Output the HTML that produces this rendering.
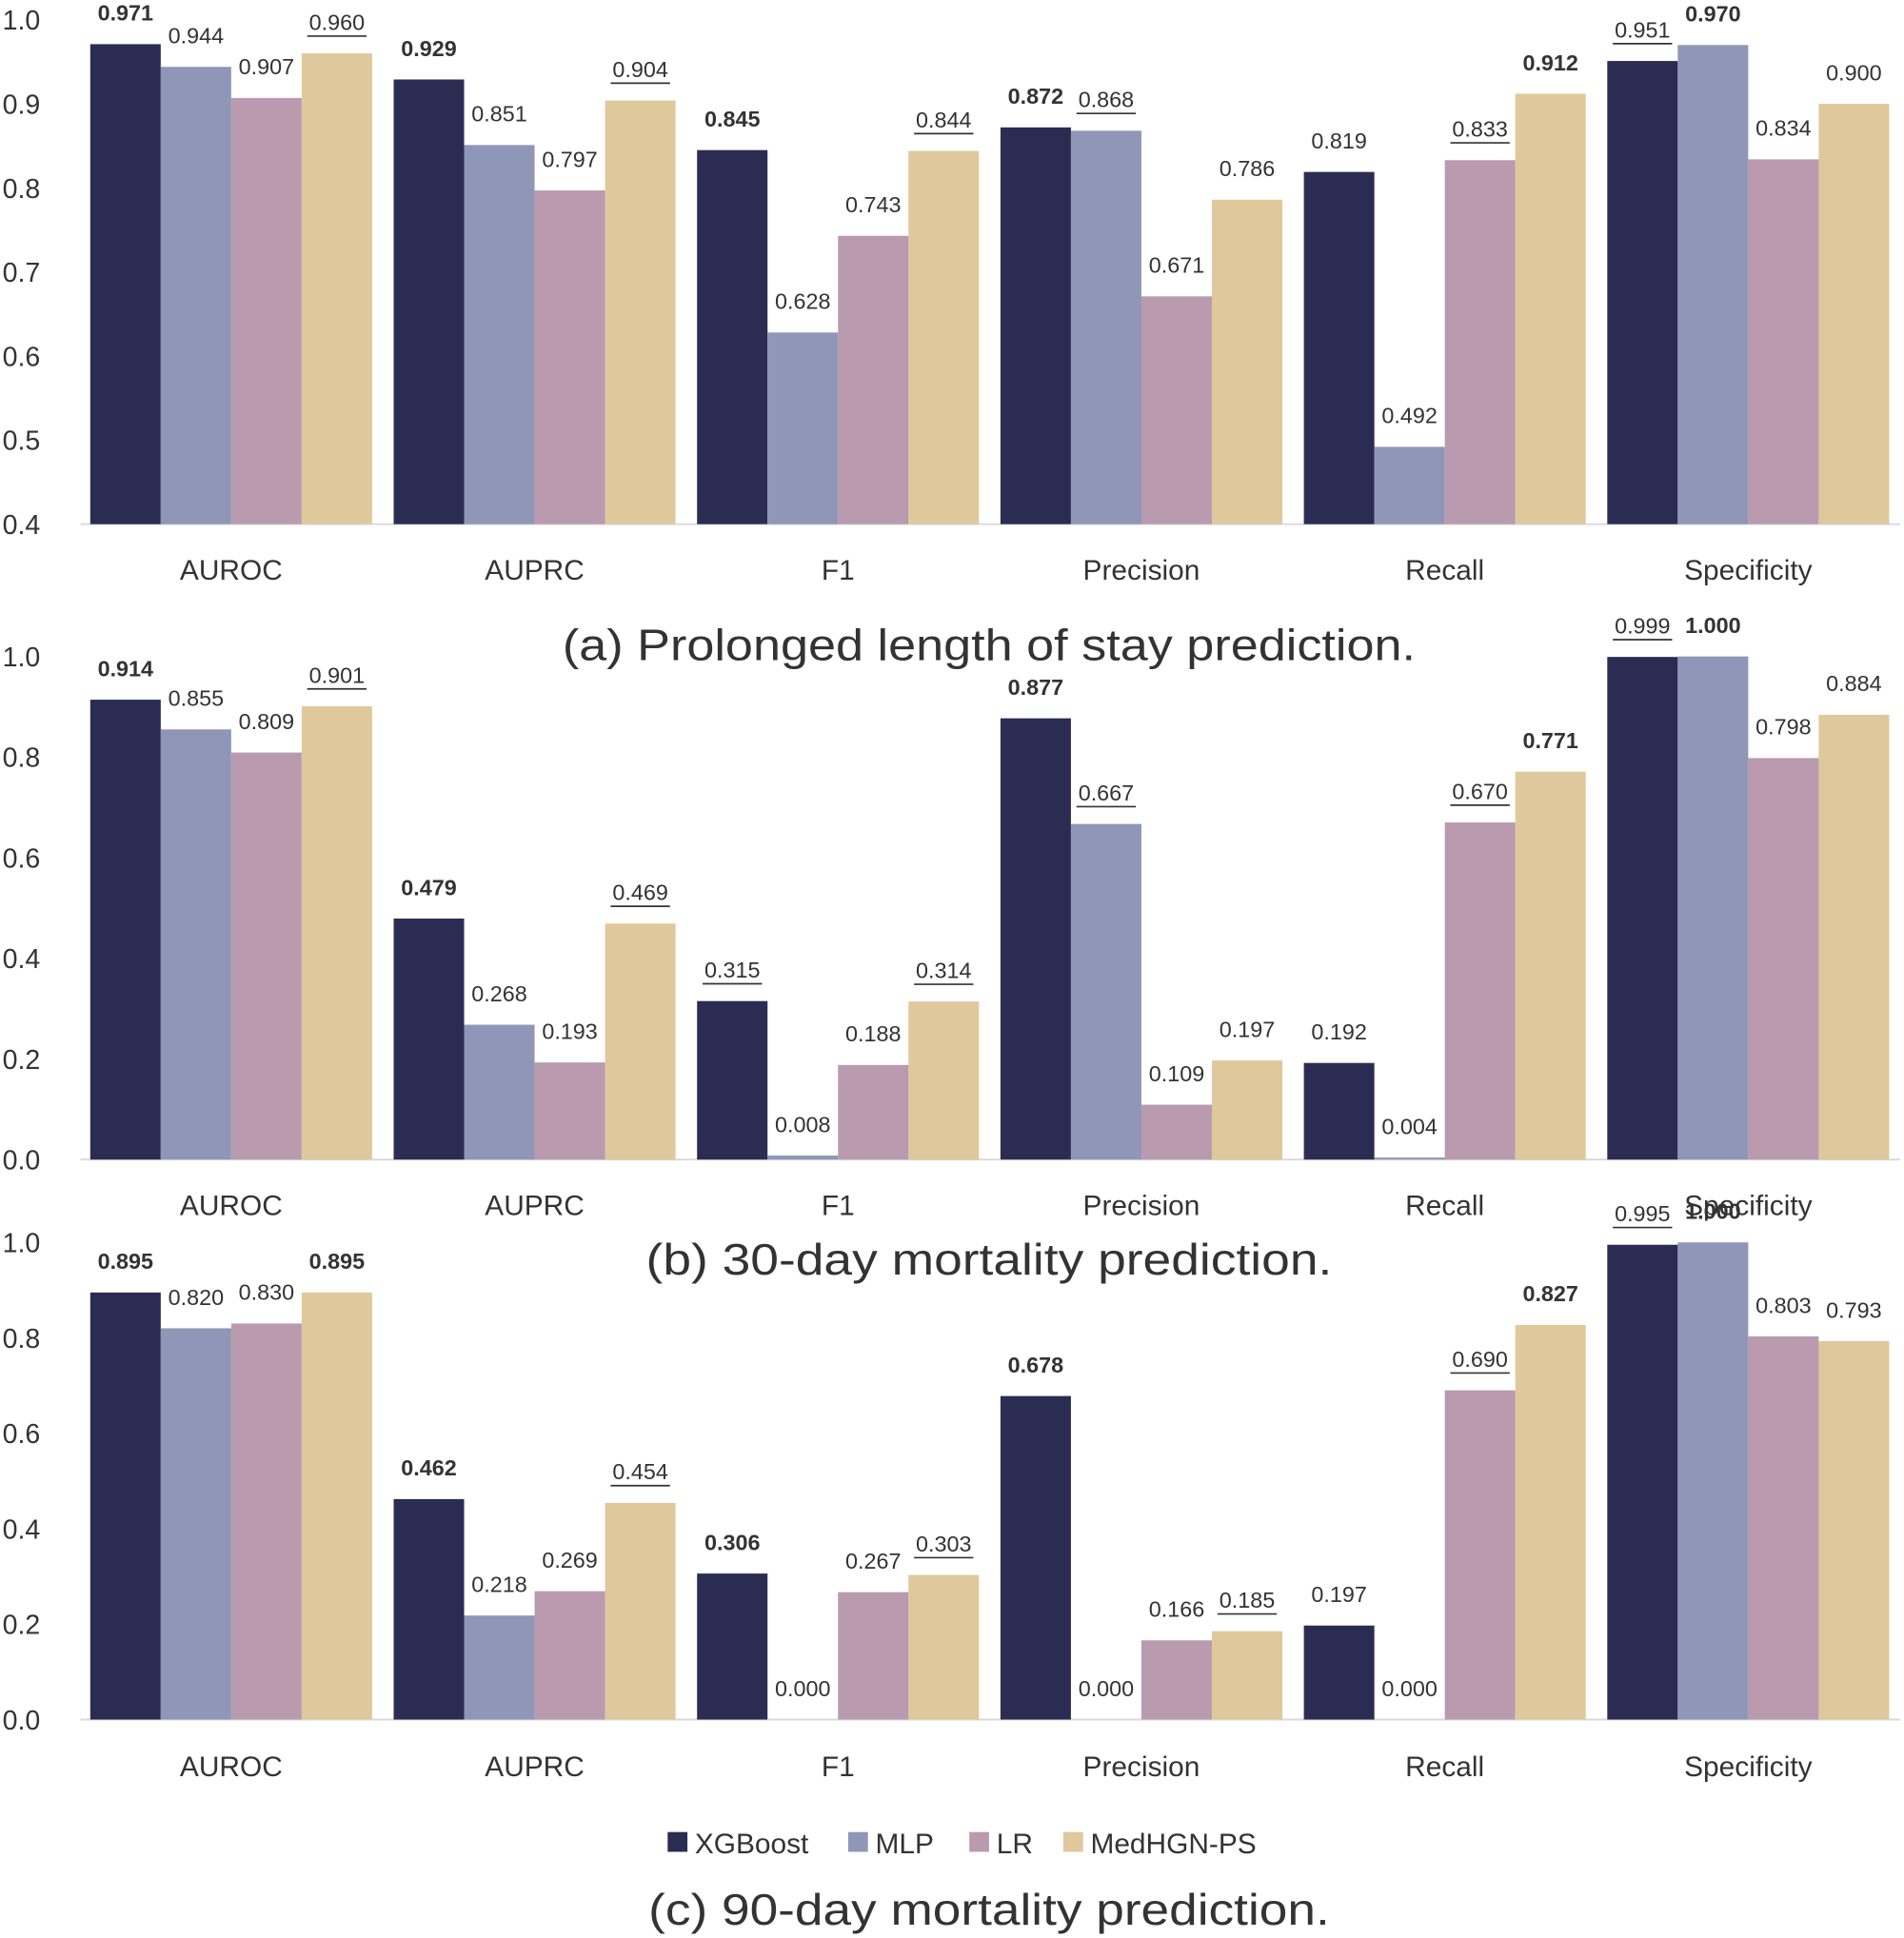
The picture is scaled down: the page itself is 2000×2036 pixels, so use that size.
<!DOCTYPE html>
<html><head><meta charset="utf-8">
<style>
html,body{margin:0;padding:0;background:#fff;}
svg{display:block;}
text{font-family:"Liberation Sans",sans-serif;fill:#333;}
</style></head>
<body>
<svg id="chart" width="2000" height="2036" viewBox="0 0 1540 1567.7" xmlns="http://www.w3.org/2000/svg"></svg>
<script>
const categories = ["AUROC","AUPRC","F1","Precision","Recall","Specificity"];
const seriesNames = ["XGBoost","MLP","LR","MedHGN-PS"];
const colors = ["#2b2c52","#9096b8","#b99aaf","#dfc89c"];

const aXGB = [0.971,0.929,0.845,0.872,0.819,0.951];
const aMLP = [0.944,0.851,0.628,0.868,0.492,0.970];
const aLR  = [0.907,0.797,0.743,0.671,0.833,0.834];
const aMed = [0.960,0.904,0.844,0.786,0.912,0.900];
const aStyle = [["b","","","u"],["b","","","u"],["b","","","u"],["b","u","",""],["","","u","b"],["u","b","",""]];

const bXGB = [0.914,0.479,0.315,0.877,0.192,0.999];
const bMLP = [0.855,0.268,0.008,0.667,0.004,1.000];
const bLR  = [0.809,0.193,0.188,0.109,0.670,0.798];
const bMed = [0.901,0.469,0.314,0.197,0.771,0.884];
const bStyle = [["b","","","u"],["b","","","u"],["u","","","u"],["b","u","",""],["","","u","b"],["u","b","",""]];

const cXGB = [0.895,0.462,0.306,0.678,0.197,0.995];
const cMLP = [0.820,0.218,0.000,0.000,0.000,1.000];
const cLR  = [0.830,0.269,0.267,0.166,0.690,0.803];
const cMed = [0.895,0.454,0.303,0.185,0.827,0.793];
const cStyle = [["b","","","b"],["b","","","u"],["b","","","u"],["b","","","u"],["","","u","b"],["u","b","",""]];

const aTicks = [0.4,0.5,0.6,0.7,0.8,0.9,1.0];
const bTicks = [0.0,0.2,0.4,0.6,0.8,1.0];

const NS="http://www.w3.org/2000/svg";
const svg=document.getElementById('chart');
function mk(tag,attrs,parent){const e=document.createElementNS(NS,tag);for(const k in attrs)e.setAttribute(k,attrs[k]);(parent||svg).appendChild(e);return e;}

function panel(id,series,styles,ticks,vmin,vmax,y0,y1,catY,title,titleY,titleW){
  const g=mk('g',{});
  
  
  const yS=v=>y0-(v-vmin)/(vmax-vmin)*(y0-y1);
  const groupW=245.4, x0=73, barW=57;
  ticks.forEach(t=>{
    const tx=mk('text',{x:2,y:yS(t)+8,'font-size':22,fill:'#444'},g);
    tx.textContent=t.toFixed(1);
    
    
  });
  const ax=mk('line',{x1:65,x2:1537,y1:y0,y2:y0,stroke:'#d9d9d9','stroke-width':1.5},g);
  
  
  categories.forEach((c,ci)=>{
    const gx=x0+ci*groupW;
    series.forEach((s,si)=>{
      const v=s[ci];const top=yS(v);
      const r=mk('rect',{x:gx+si*barW,y:top,width:barW,height:Math.max(0,y0-top),fill:colors[si]},g);
      
      
      const st=styles[ci][si];
      const lx=gx+si*barW+barW/2, ly=top-19;
      const t=mk('text',{x:lx,y:ly,'font-size':18,'text-anchor':'middle',fill:'#333','font-weight':st==='b'?'bold':'normal'},g);
      t.textContent=v.toFixed(3);
      
      
      if(st==='u'){
        const u=mk('line',{x1:lx-24,x2:lx+24,y1:ly+5,y2:ly+5,stroke:'#333','stroke-width':1.3},g);
        
        
      }
    });
    const cl=mk('text',{x:gx+2*barW,y:catY,'font-size':23,'text-anchor':'middle',fill:'#444'},g);
    cl.textContent=c;
    
    
  });
  const tt=mk('text',{x:800,y:titleY,'font-size':36,'text-anchor':'middle',fill:'#111',textLength:titleW,lengthAdjust:'spacingAndGlyphs'},g);
  tt.textContent=title;
  
  
}
panel('a',[aXGB,aMLP,aLR,aMed],aStyle,aTicks,0.4,1.0,424,16,469,'(a) Prolonged length of stay prediction.',534,690);
panel('b',[bXGB,bMLP,bLR,bMed],bStyle,bTicks,0.0,1.0,938,531,983,'(b) 30-day mortality prediction.',1031,555);
panel('c',[cXGB,cMLP,cLR,cMed],cStyle,bTicks,0.0,1.0,1391,1005,1437,'(c) 90-day mortality prediction.',1557,551);

const lg=mk('g',{});


const lx=[540,686,784,860];
seriesNames.forEach((n,i)=>{
  const r=mk('rect',{x:lx[i],y:1482,width:16,height:16,fill:colors[i]},lg);
  
  
  const t=mk('text',{x:lx[i]+22,y:1499,'font-size':23,fill:'#444'},lg);
  t.textContent=n;
  
  
});
</script>
</body></html>
